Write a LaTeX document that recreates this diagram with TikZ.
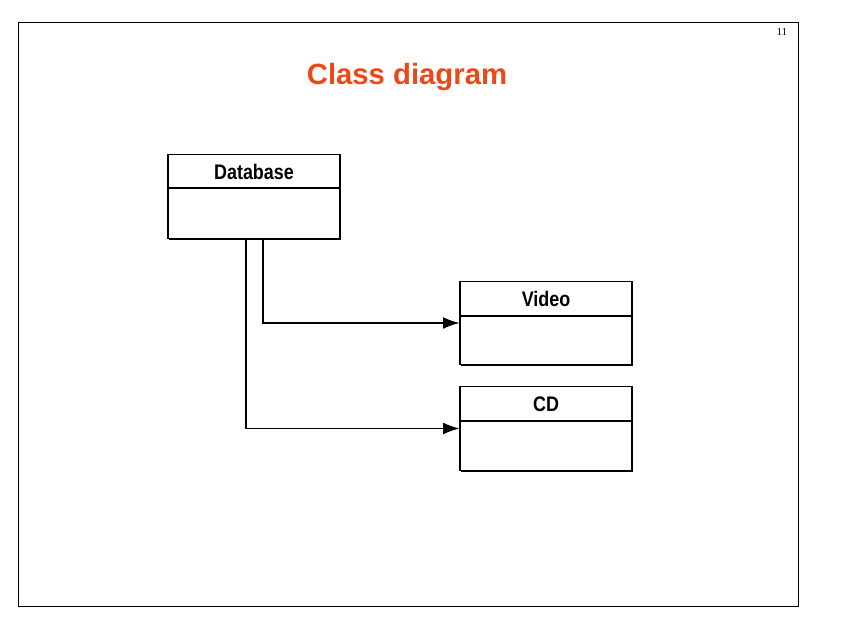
\documentclass[tikz,border=0pt]{standalone}
\usepackage{fontspec}
\setmainfont{Liberation Sans}
\newfontfamily\pagefont{Liberation Serif}
\usetikzlibrary{arrows.meta,shadows}
\definecolor{titleorange}{RGB}{238,72,24}
\tikzset{
  klass/.style = {draw = black, fill = white, line width = 0.9pt, minimum width = 5.16cm, minimum height = 2.5cm, inner sep = 0pt,
    drop shadow = {shadow xshift = 1.2pt, shadow yshift = -1.2pt, fill = black, opacity = 1}},
  kname/.style = {font = \fontsize{18}{21}\bfseries, inner sep = 0pt, anchor = center},
  link/.style = {line width = 0.9pt, -{Latex[length = 14pt, width = 10pt]}}
}
\begin{document}
\begin{tikzpicture}[x = 0.03cm, y = -0.03cm]
\useasboundingbox (0,0) rectangle (845,642);
\draw[line width = 0.8pt] (18,22) rectangle (798,606);
\node[font = \pagefont\fontsize{9}{10}\selectfont] (pagenum) at (782,32) {11};
\node[font = \fontsize{25}{29}\bfseries, text = titleorange] (title) at (407,77) {Class diagram};
% classes
\node[klass] (db) at (254,196.5) {};
\draw[line width = 0.9pt] (168,188) -- (340,188);
\node[kname, xscale = 0.85] (dbname) at (254,172) {Database};
\node[klass] (video) at (546,323) {};
\draw[line width = 0.9pt] (460,316) -- (632,316);
\node[kname, xscale = 0.85] (videoname) at (546,299) {Video};
\node[klass] (cd) at (546,428.5) {};
\draw[line width = 0.9pt] (460,421) -- (632,421);
\node[kname, xscale = 0.85] (cdname) at (546,404) {CD};
% links
\draw[link] ([xshift = 0.27cm]db.south) |- (video.west);
\draw[link] ([xshift = -0.24cm]db.south) |- (cd.west);
\end{tikzpicture}
\end{document}
